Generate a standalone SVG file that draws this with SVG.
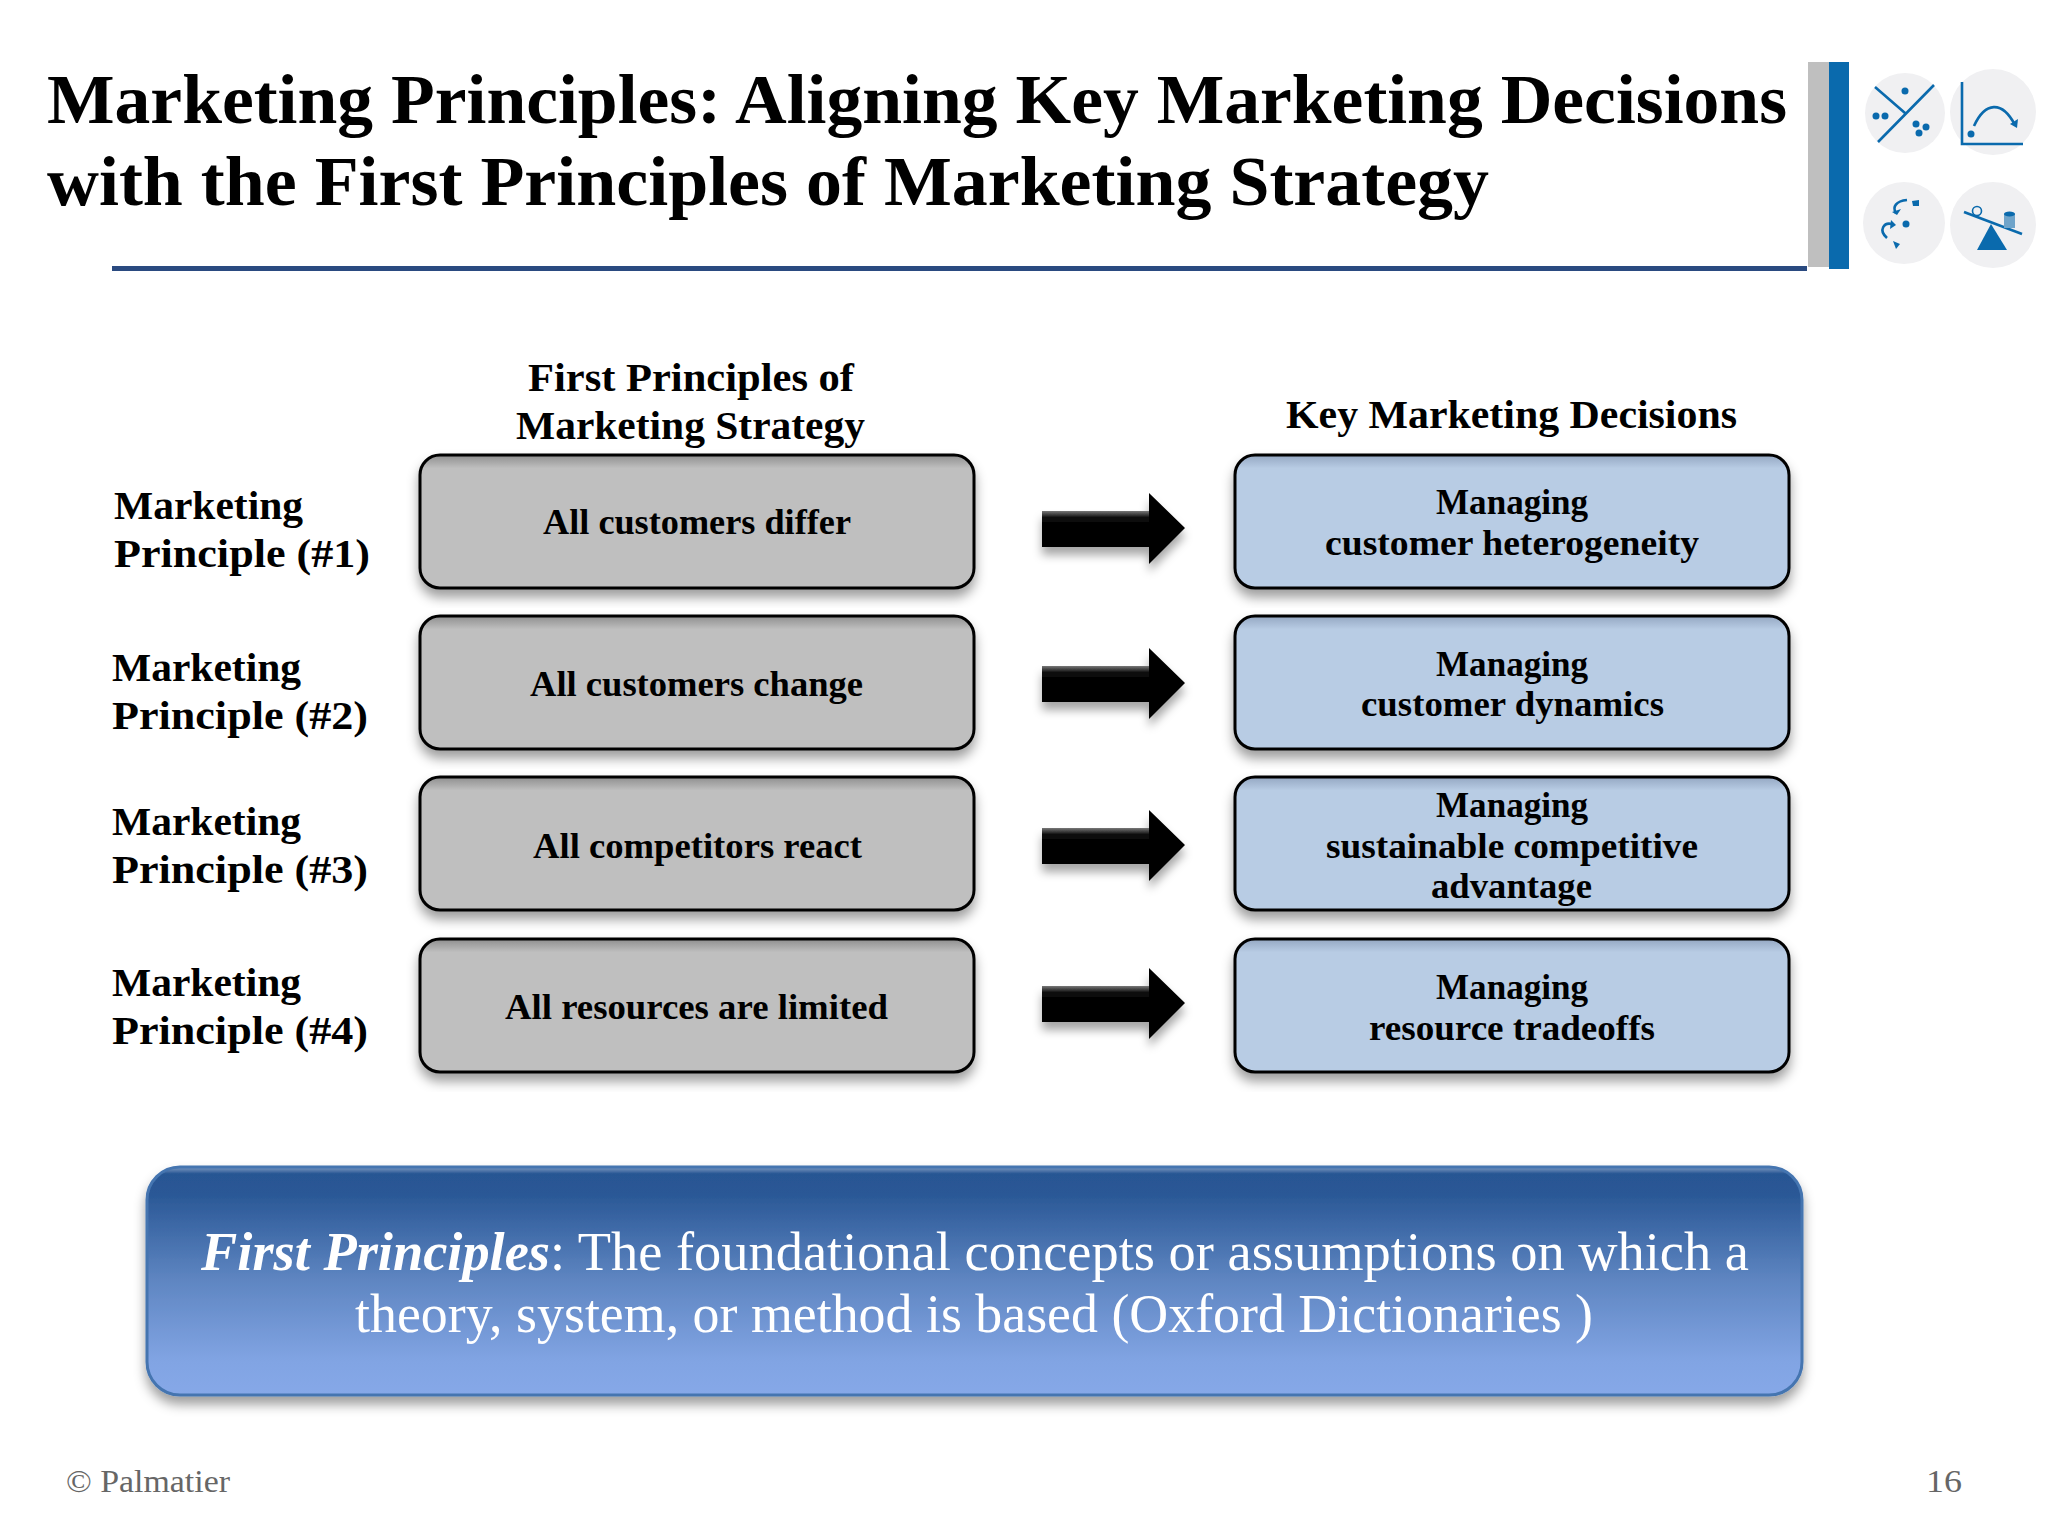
<svg xmlns="http://www.w3.org/2000/svg" width="2048" height="1536" viewBox="0 0 2048 1536">
<style>
text{font-family:"Liberation Serif","Times New Roman",serif;fill:#000}
.t{font-size:70px;font-weight:700}
.h{font-size:41px;font-weight:700}
.l{font-size:41px;font-weight:700}
.n{font-size:36px;font-weight:700}
.w{font-size:54px;fill:#fff}
.f{font-size:32px;fill:#666}
.ic{fill:#0a6aad}
.il{fill:none;stroke:#0a6aad;stroke-width:2.6}
.c{fill:#f0f0f2}
.g{fill:url(#gg);stroke:#000;stroke-width:3}
.u{fill:url(#gb);stroke:#000;stroke-width:3}
</style>
<defs>
<linearGradient id="gg" x1="0" y1="0" x2="0" y2="1"><stop offset="0" stop-color="#8e8e8e"/><stop offset=".1" stop-color="#bfbfbf"/><stop offset="1" stop-color="#bfbfbf"/></linearGradient>
<linearGradient id="gb" x1="0" y1="0" x2="0" y2="1"><stop offset="0" stop-color="#94a7c2"/><stop offset=".1" stop-color="#b8cce4"/><stop offset="1" stop-color="#b8cce4"/></linearGradient>
<linearGradient id="gd" x1="0" y1="0" x2="0" y2="1"><stop offset="0" stop-color="#7f9cc4"/><stop offset=".03" stop-color="#285693"/><stop offset=".12" stop-color="#2a5896"/><stop offset=".5" stop-color="#5f86c2"/><stop offset=".85" stop-color="#81a4e3"/><stop offset="1" stop-color="#86a8e8"/></linearGradient>
<linearGradient id="ga" x1="0" y1="0" x2="0" y2="1"><stop offset="0" stop-color="#777"/><stop offset=".45" stop-color="#111"/><stop offset="1" stop-color="#000"/></linearGradient>
<filter id="s" x="-5%" y="-10%" width="110%" height="125%"><feDropShadow dx="0" dy="8" stdDeviation="6" flood-color="#000" flood-opacity=".38"/></filter>
<filter id="sa" x="-15%" y="-20%" width="130%" height="150%"><feDropShadow dx="0" dy="8" stdDeviation="5" flood-color="#000" flood-opacity=".35"/></filter>
<g id="arr"><polygon points="1042,511 1149,511 1149,493 1185,528 1149,564 1149,547 1042,547" fill="#000"/><rect x="1042" y="511" width="107" height="14" fill="url(#ga)"/></g>
</defs>
<rect width="2048" height="1536" fill="#fff"/>

<g id="title">
<text class="t" x="47" y="123" textLength="1740" lengthAdjust="spacingAndGlyphs">Marketing Principles: Aligning Key Marketing Decisions</text>
<text class="t" x="47" y="205" textLength="1442" lengthAdjust="spacingAndGlyphs">with the First Principles of Marketing Strategy</text>
</g>
<g id="decor">
<rect x="112" y="266" width="1695" height="5" fill="#2a4a80"/>
<rect x="1808" y="62" width="21" height="205" fill="#bfbfbf"/>
<rect x="1829" y="62" width="20" height="207" fill="#0a6aad"/>
</g>
<g id="icon-1">
<circle class="c" cx="1905" cy="113" r="40"/>
<path class="il" d="M1875 87L1905 113M1934 85L1878 142"/>
<circle class="ic" cx="1905" cy="91" r="3.500"/><circle class="ic" cx="1876" cy="116" r="3.500"/><circle class="ic" cx="1885" cy="116" r="3.500"/><circle class="ic" cx="1916" cy="124" r="3.500"/><circle class="ic" cx="1926" cy="127" r="3.500"/><circle class="ic" cx="1919" cy="133" r="3.500"/>
</g>
<g id="icon-2">
<circle class="c" cx="1993" cy="112" r="43"/>
<path class="il" d="M1962 82V144H2023"/>
<circle class="ic" cx="1971" cy="134" r="3.500"/>
<path class="il" d="M1974 126C1985 102 2002 100 2015 125"/>
<path class="ic" d="M2010 124L2017 128 2018 119Z"/>
</g>
<g id="icon-3">
<circle class="c" cx="1904" cy="223" r="41"/>
<path class="il" d="M1907 200C1896 201 1892 207 1896 213"/>
<path class="ic" d="M1892 212L1901 209 1897 215Z"/>
<path class="ic" d="M1912 201L1919 200 1919 206 1913 206Z"/>
<circle class="ic" cx="1906" cy="224" r="3.500"/>
<path class="il" d="M1887 238C1878 230 1884 222 1892 224"/>
<path class="ic" d="M1891 220L1896 225 1890 229Z"/>
<path class="ic" d="M1893 241L1900 244 1896 249Z"/>
</g>
<g id="icon-4">
<circle class="c" cx="1993" cy="225" r="43"/>
<path class="il" d="M1964 212L2022 234"/>
<circle cx="1977" cy="211" r="4.500" fill="#f0f0f2" stroke="#0a6aad" stroke-width="1.600"/>
<rect x="2004" y="214" width="11" height="14" fill="#6fa4ca"/><ellipse cx="2009.500" cy="214" rx="5.500" ry="2.500" fill="#0a6aad"/>
<polygon class="ic" points="1991,224 2007,250 1977,250"/>
</g>

<g id="col-head-1"><text class="h" x="528" y="391" textLength="326" lengthAdjust="spacingAndGlyphs">First Principles of</text><text class="h" x="516" y="439" textLength="349" lengthAdjust="spacingAndGlyphs">Marketing Strategy</text></g>
<g id="col-head-2"><text class="h" x="1286" y="428" textLength="451" lengthAdjust="spacingAndGlyphs">Key Marketing Decisions</text></g>

<g id="label-1"><text class="l" x="114" y="519" textLength="189" lengthAdjust="spacingAndGlyphs">Marketing</text><text class="l" x="114" y="567" textLength="256" lengthAdjust="spacingAndGlyphs">Principle (#1)</text></g>
<g id="label-2"><text class="l" x="112" y="681" textLength="189" lengthAdjust="spacingAndGlyphs">Marketing</text><text class="l" x="112" y="729" textLength="256" lengthAdjust="spacingAndGlyphs">Principle (#2)</text></g>
<g id="label-3"><text class="l" x="112" y="835" textLength="189" lengthAdjust="spacingAndGlyphs">Marketing</text><text class="l" x="112" y="883" textLength="256" lengthAdjust="spacingAndGlyphs">Principle (#3)</text></g>
<g id="label-4"><text class="l" x="112" y="996" textLength="189" lengthAdjust="spacingAndGlyphs">Marketing</text><text class="l" x="112" y="1044" textLength="256" lengthAdjust="spacingAndGlyphs">Principle (#4)</text></g>

<g id="fp-1"><rect class="g" x="420" y="455" width="554" height="133" rx="20" filter="url(#s)"/><text class="n" x="543" y="534" textLength="308" lengthAdjust="spacingAndGlyphs">All customers differ</text></g>
<g id="fp-2"><rect class="g" x="420" y="616" width="554" height="133" rx="20" filter="url(#s)"/><text class="n" x="530" y="696" textLength="333" lengthAdjust="spacingAndGlyphs">All customers change</text></g>
<g id="fp-3"><rect class="g" x="420" y="777" width="554" height="133" rx="20" filter="url(#s)"/><text class="n" x="533" y="858" textLength="329" lengthAdjust="spacingAndGlyphs">All competitors react</text></g>
<g id="fp-4"><rect class="g" x="420" y="939" width="554" height="133" rx="20" filter="url(#s)"/><text class="n" x="505" y="1019" textLength="383" lengthAdjust="spacingAndGlyphs">All resources are limited</text></g>

<g id="kd-1"><rect class="u" x="1235" y="455" width="554" height="133" rx="20" filter="url(#s)"/><text class="n" x="1436" y="514" textLength="152" lengthAdjust="spacingAndGlyphs">Managing</text><text class="n" x="1325" y="555" textLength="374" lengthAdjust="spacingAndGlyphs">customer heterogeneity</text></g>
<g id="kd-2"><rect class="u" x="1235" y="616" width="554" height="133" rx="20" filter="url(#s)"/><text class="n" x="1436" y="676" textLength="152" lengthAdjust="spacingAndGlyphs">Managing</text><text class="n" x="1361" y="716" textLength="303" lengthAdjust="spacingAndGlyphs">customer dynamics</text></g>
<g id="kd-3"><rect class="u" x="1235" y="777" width="554" height="133" rx="20" filter="url(#s)"/><text class="n" x="1436" y="817" textLength="152" lengthAdjust="spacingAndGlyphs">Managing</text><text class="n" x="1326" y="858" textLength="372" lengthAdjust="spacingAndGlyphs">sustainable competitive</text><text class="n" x="1431" y="898" textLength="161" lengthAdjust="spacingAndGlyphs">advantage</text></g>
<g id="kd-4"><rect class="u" x="1235" y="939" width="554" height="133" rx="20" filter="url(#s)"/><text class="n" x="1436" y="999" textLength="152" lengthAdjust="spacingAndGlyphs">Managing</text><text class="n" x="1369" y="1040" textLength="286" lengthAdjust="spacingAndGlyphs">resource tradeoffs</text></g>

<g id="connectors" filter="url(#sa)">
<use href="#arr"/>
<use href="#arr" y="155"/>
<use href="#arr" y="317"/>
<use href="#arr" y="475"/>
</g>

<g id="definition">
<rect x="147" y="1167" width="1655" height="228" rx="33" fill="url(#gd)" stroke="#4474b0" stroke-width="3" filter="url(#s)"/>
<text class="w" x="201" y="1270" font-weight="700" font-style="italic" textLength="349" lengthAdjust="spacingAndGlyphs">First Principles</text>
<text class="w" x="550" y="1270" textLength="1199" lengthAdjust="spacingAndGlyphs">: The foundational concepts or assumptions on which a</text>
<text class="w" x="355" y="1332" textLength="1238" lengthAdjust="spacingAndGlyphs">theory, system, or method is based (Oxford Dictionaries )</text>
</g>
<g id="footer">
<text class="f" x="66" y="1492" textLength="164" lengthAdjust="spacingAndGlyphs">© Palmatier</text>
<text class="f" x="1926" y="1492" textLength="36" lengthAdjust="spacingAndGlyphs">16</text>
</g>
</svg>
